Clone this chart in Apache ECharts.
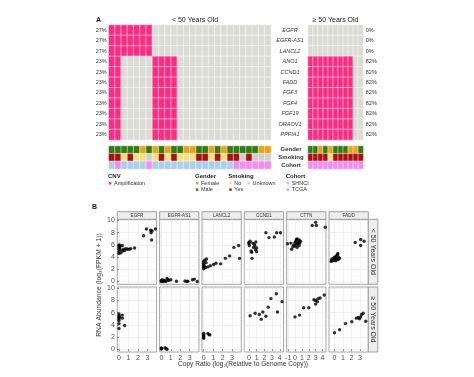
<!DOCTYPE html>
<html>
<head>
<meta charset="utf-8">
<script src="https://cdn.jsdelivr.net/npm/echarts@6/dist/echarts.min.js"></script>
<style>
  html, body { margin: 0; padding: 0; background: #fff; }
  #chart { width: 474px; height: 377px; }
</style>
</head>
<body>
<div id="chart"></div>
<script>
// ---------- panel A data ----------
const genes = ['EGFR', 'EGFR-AS1', 'LANCL2', 'ANO1', 'CCND1', 'FADD', 'FGF3', 'FGF4', 'FGF19', 'ORAOV1', 'PPFIA1']
const pctYoung = ['27%', '27%', '27%', '23%', '23%', '23%', '23%', '23%', '23%', '23%', '23%']
const pctOld = ['0%', '0%', '0%', '82%', '82%', '82%', '82%', '82%', '82%', '82%', '82%']
// one string per gene, one char per patient (1 = amplification)
const ampYoung = [
  '11111110000000000000000000',
  '11111110000000000000000000',
  '11111110000000000000000000',
  '11000001111000000000000000',
  '11000001111000000000000000',
  '11000001111000000000000000',
  '11000001111000000000000000',
  '11000001111000000000000000',
  '11000001111000000000000000',
  '11000001111000000000000000',
  '11000001111000000000000000'
]
const ampOld = [
  '00000000000',
  '00000000000',
  '00000000000',
  '11111111100',
  '11111111100',
  '11111111100',
  '11111111100',
  '11111111100',
  '11111111100',
  '11111111100',
  '11111111100'
]
const trackNames = ['Gender', 'Smoking', 'Cohort']
const genderYoung = 'MMMMMFMFMFMMFFMMFMFMMMMMFF'
const smokingYoung = 'YYNYNNUNYNYNNNYYNYNYYUYUUU'
const cohortYoung = 'STSSSSTSSSSSSSSSSSSSTTTTTT'
const genderOld = 'MMFMFMMMFFM'
const smokingOld = 'YYYYNYYYYYY'
const cohortOld = 'TTTTTTTTTTT'

// ---------- panel B data ----------
const panelGenes = ['EGFR', 'EGFR-AS1', 'LANCL2', 'CCND1', 'CTTN', 'FADD']
const ageRows = ['< 50 Years Old', '\u2265 50 Years Old']
const yTicks = [0, 2, 4, 6, 8, 10]
const xTicks = [[0, 1, 2, 3], [0, 1, 2, 3], [0, 1, 2, 3], [0, 1, 2, 3, 4], [-1, 0, 1, 2, 3, 4], [0, 1, 2, 3]]

const egfrYoung = [[0, 5.9], [0, 5.6], [0, 5.3], [0, 4.9], [0, 4.6], [0.05, 6.0], [0.1, 5.7], [0.15, 5.2], [0.2, 4.7], [0.35, 5.9], [0.4, 5.0], [0.5, 5.3], [0.6, 5.1], [0.75, 5.4], [0.9, 5.3], [1.1, 5.3], [1.25, 5.4], [1.65, 5.5], [2.6, 7.5], [2.9, 8.6], [3.35, 8.4], [3.4, 8.0], [3.45, 6.8], [3.5, 8.3], [3.85, 8.6]]
const egfrOld = [[0, 5.8], [0, 5.5], [0, 5.2], [0, 5.0], [0, 4.7], [0, 4.2], [0, 3.4], [0.05, 5.3], [0.35, 5.6], [0.35, 5.1], [0.6, 3.9]]
const as1Young = [[0, 0.2], [0, 0.0], [0.05, 0.1], [0.1, 0.3], [0.2, 0.0], [0.3, 0.2], [0.35, 0.1], [0.5, 0.0], [0.6, 0.5], [0.7, 0.3], [0.8, 0.2], [1.0, 0.3], [1.6, 0.05], [2.5, 0.1], [2.7, 0.0], [2.8, 0.05], [3.3, 0.3], [3.5, 0.4], [3.8, 0.0]]
const as1Old = [[0, 0.2], [0, 0.05], [0.05, 0.15], [0.4, 0.25], [0.5, 0.1], [0.6, 0.0]]
const lanYoung = [[0, 2.1], [0, 2.4], [0, 2.7], [0, 3.0], [0, 3.3], [0.05, 2.6], [0.1, 3.5], [0.2, 2.3], [0.25, 3.1], [0.3, 3.7], [0.45, 2.4], [0.7, 2.6], [1.05, 2.8], [1.3, 3.0], [1.8, 2.9], [2.3, 3.8], [2.75, 4.2], [3.2, 5.6], [3.7, 5.9], [3.8, 3.8]]
const lanOld = [[0, 2.6], [0, 2.4], [0, 2.2], [0, 2.0], [0, 1.8], [0.45, 2.6], [0.55, 2.4], [0.65, 2.35]]
const ccndYoung = [[0, 6.4], [0, 6.2], [0.05, 5.9], [0.15, 6.6], [0.3, 5.0], [0.35, 4.8], [0.4, 3.8], [0.5, 6.3], [0.6, 5.6], [0.75, 5.8], [0.85, 5.2], [0.9, 6.5], [1.0, 4.9], [1.0, 5.5], [0.7, 6.1], [2.2, 8.0], [2.6, 7.2], [3.3, 7.3], [3.6, 8.0], [4.1, 8.0]]
const ccndOld = [[0.15, 5.5], [0.8, 5.9], [1.35, 5.7], [1.6, 4.9], [1.8, 6.1], [2.2, 5.4], [2.5, 6.9], [2.85, 8.3], [3.55, 9.1], [3.7, 6.1], [4.3, 7.8]]
const cttnYoung = [[-1.1, 6.2], [-0.6, 6.3], [-0.5, 5.3], [-0.3, 5.7], [-0.2, 6.0], [0, 6.4], [0, 5.8], [0.1, 6.6], [0.2, 6.9], [0.2, 6.1], [0.3, 5.6], [0.4, 6.2], [0.5, 6.5], [0.6, 5.9], [0.7, 6.3], [0.8, 6.6], [0.3, 7.0], [0.6, 6.8], [2.5, 9.2], [3.0, 9.7], [3.1, 9.2], [4.4, 8.9]]
const cttnOld = [[0, 5.3], [0.65, 5.6], [1.25, 6.8], [2.0, 6.8], [2.75, 8.1], [3.0, 8.0], [3.0, 7.4], [3.25, 7.8], [3.35, 8.3], [3.65, 8.4], [4.25, 8.9]]
const faddYoung = [[-0.4, 3.3], [-0.35, 3.6], [-0.3, 3.4], [-0.2, 3.8], [-0.1, 3.5], [0, 4.0], [0, 3.6], [0.1, 3.9], [0.15, 3.4], [0.2, 4.2], [0.3, 3.7], [0.35, 4.4], [0.4, 4.6], [0.45, 3.6], [0.5, 4.0], [0.6, 3.8], [2.45, 6.4], [3.1, 6.9], [3.1, 5.9], [3.5, 6.6]]
const faddOld = [[0, 2.7], [0.6, 3.2], [1.3, 4.2], [2.05, 4.5], [2.6, 5.1], [2.8, 5.2], [2.95, 5.0], [3.1, 5.3], [3.2, 5.7], [3.4, 5.9], [3.7, 4.6]]

const scatterData = [
  [egfrYoung, as1Young, lanYoung, ccndYoung, cttnYoung, faddYoung],
  [egfrOld, as1Old, lanOld, ccndOld, cttnOld, faddOld]
]

// ---------- look ----------
const FONT = '"Liberation Sans", Arial, sans-serif'
const col = {
  amp: '#FF2B82', none: '#DCDCD6',
  female: '#E8A317', male: '#2E7D0E',
  no: '#F7E07C', yes: '#B00F0F', unknown: '#CFCFCF',
  shnci: '#A8CFEF', tcga: '#F28CF2'
}
const codeOf = [
  { M: 3, F: 2 },
  { N: 4, Y: 5, U: 6 },
  { S: 7, T: 8 }
]

function cnvCells(rows) {
  const out = []
  rows.forEach((s, r) => s.split('').forEach((ch, c) => out.push([c, r, +ch])))
  return out
}
function trackCells(rows) {
  const out = []
  rows.forEach((s, r) => s.split('').forEach((ch, c) => out.push([c, r, codeOf[r][ch]])))
  return out
}
const idx = n => Array.from({ length: n }, (_, i) => i)

// layout of the facet panels
const pLeft0 = 117.3, pStep = 42.34, pW = 39.3
const rowTop = [219.3, 287], pH = 65
const xRange = [[-0.18, 3.98], [-0.18, 3.98], [-0.18, 3.98], [-0.6, 4.5], [-1.22, 4.5], [-0.65, 4.0]]
const yRange = [-0.45, 10.2]

const grids = [
  { left: 108.7, top: 25, width: 162.3, height: 115 },
  { left: 308, top: 25, width: 55.3, height: 115 },
  { left: 108.7, top: 146, width: 162.3, height: 23 },
  { left: 308, top: 146, width: 55.3, height: 23 }
]
const hide = { axisLine: { show: false }, axisTick: { show: false }, splitLine: { show: false } }
const xAxes = [
  { type: 'category', gridIndex: 0, data: idx(26), axisLabel: { show: false }, ...hide },
  { type: 'category', gridIndex: 1, data: idx(11), axisLabel: { show: false }, ...hide },
  { type: 'category', gridIndex: 2, data: idx(26), axisLabel: { show: false }, ...hide },
  { type: 'category', gridIndex: 3, data: idx(11), axisLabel: { show: false }, ...hide }
]
const lbl = { fontFamily: FONT, color: '#333', interval: 0, hideOverlap: false }
const yAxes = [
  { type: 'category', gridIndex: 0, data: pctYoung, inverse: true, ...hide,
    axisLabel: { ...lbl, fontSize: 5.5, margin: 2 } },
  { type: 'category', gridIndex: 1, data: genes, inverse: true, ...hide,
    axisLabel: { ...lbl, fontSize: 5.5, fontStyle: 'italic', align: 'center', margin: 18 } },
  { type: 'category', gridIndex: 1, data: pctOld, inverse: true, position: 'right', ...hide,
    axisLabel: { ...lbl, fontSize: 5.5, margin: 2.5 } },
  { type: 'category', gridIndex: 2, data: trackNames, inverse: true, ...hide, axisLabel: { show: false } },
  { type: 'category', gridIndex: 3, data: trackNames, inverse: true, ...hide,
    axisLabel: { ...lbl, fontSize: 6, fontWeight: 'bold', align: 'center', margin: 17 } }
]

const series = [
  { type: 'heatmap', xAxisIndex: 0, yAxisIndex: 0, data: cnvCells(ampYoung) },
  { type: 'heatmap', xAxisIndex: 1, yAxisIndex: 1, data: cnvCells(ampOld) },
  { type: 'heatmap', xAxisIndex: 2, yAxisIndex: 3, data: trackCells([genderYoung, smokingYoung, cohortYoung]) },
  { type: 'heatmap', xAxisIndex: 3, yAxisIndex: 4, data: trackCells([genderOld, smokingOld, cohortOld]) }
].map(s => ({ ...s, silent: true, itemStyle: { borderColor: '#fff', borderWidth: 0.5 } }))

const graphic = []
const txt = (x, y, text, style) => graphic.push({
  type: 'text', x, y, silent: true,
  style: { text, fontFamily: FONT, fill: '#222', fontSize: 6, verticalAlign: 'middle', textVerticalAlign: 'middle', ...style }
})

// facet panels
for (let r = 0; r < 2; r++) {
  for (let c = 0; c < 6; c++) {
    const left = pLeft0 + pStep * c
    const g = grids.length
    grids.push({ left, top: rowTop[r], width: pW, height: pH, show: true, backgroundColor: '#fff', borderColor: '#8a8a8a', borderWidth: 0.8 })
    xAxes.push({
      type: 'value', gridIndex: g, min: xRange[c][0], max: xRange[c][1], minInterval: 1, maxInterval: 1,
      axisLine: { show: false },
      axisTick: { show: r === 1, length: 2, lineStyle: { color: '#444', width: 0.6 }, customValues: xTicks[c] },
      axisLabel: { show: r === 1, customValues: xTicks[c], fontFamily: FONT, fontSize: 7, color: '#4d4d4d', margin: 2.5 },
      splitLine: { show: true, lineStyle: { color: '#E6E6E6', width: 0.6 } },
      minorTick: { show: false, splitNumber: 2 },
      minorSplitLine: { show: true, lineStyle: { color: '#F3F3F3', width: 0.4 } }
    })
    yAxes.push({
      type: 'value', gridIndex: g, min: yRange[0], max: yRange[1], minInterval: 2, maxInterval: 2,
      axisLine: { show: false },
      axisTick: { show: c === 0, length: 2, lineStyle: { color: '#444', width: 0.6 }, customValues: yTicks },
      axisLabel: { show: c === 0, customValues: yTicks, fontFamily: FONT, fontSize: 7, color: '#4d4d4d', margin: 2.5 },
      splitLine: { show: true, lineStyle: { color: '#E6E6E6', width: 0.6 } },
      minorTick: { show: false, splitNumber: 2 },
      minorSplitLine: { show: true, lineStyle: { color: '#F3F3F3', width: 0.4 } }
    })
    series.push({
      type: 'scatter', xAxisIndex: g, yAxisIndex: yAxes.length - 1, data: scatterData[r][c],
      symbolSize: 3.4, itemStyle: { color: '#000' }, silent: true
    })
    if (r === 0) {
      graphic.push({ type: 'rect', silent: true, shape: { x: left, y: 211.7, width: pW, height: 7.6 },
        style: { fill: '#EDEDED', stroke: '#8a8a8a', lineWidth: 0.8 } })
      txt(left + pW / 2, 215.6, panelGenes[c], { fontSize: 4.6, align: 'center', textAlign: 'center', fill: '#333' })
    }
  }
  const sx = pLeft0 + pStep * 5 + pW
  graphic.push({ type: 'rect', silent: true, shape: { x: sx, y: rowTop[r], width: 9.5, height: pH },
    style: { fill: '#EDEDED', stroke: '#8a8a8a', lineWidth: 0.8 } })
  graphic.push({ type: 'text', silent: true, x: sx + 4.9, y: rowTop[r] + pH / 2, rotation: -Math.PI / 2,
    style: { text: ageRows[r], fontFamily: FONT, fontSize: 7, fill: '#333', align: 'center', textAlign: 'center',
      verticalAlign: 'middle', textVerticalAlign: 'middle' } })
}

// titles and axis names
txt(96, 20, 'A', { fontWeight: 'bold', fontSize: 7 })
txt(195, 20, '< 50 Years Old', { fontSize: 7, align: 'center', textAlign: 'center' })
txt(335.5, 20, '\u2265 50 Years Old', { fontSize: 7, align: 'center', textAlign: 'center' })
txt(92, 207, 'B', { fontWeight: 'bold', fontSize: 7 })
txt(243, 364, 'Copy Ratio (log\u2082(Relative to Genome Copy))', { fontSize: 6.6, align: 'center', textAlign: 'center', fill: '#333' })
graphic.push({ type: 'text', silent: true, x: 99, y: 285, rotation: Math.PI / 2,
  style: { text: 'RNA Abundance (log\u2082(FPKM + 1))', fontFamily: FONT, fontSize: 6.8, fill: '#333',
    align: 'center', textAlign: 'center', verticalAlign: 'middle', textVerticalAlign: 'middle' } })

// legend of panel A
const legendBlocks = [
  { x: 108, title: 'CNV', items: [['Amplification', col.amp, 0, 0]] },
  { x: 195, title: 'Gender', items: [['Female', col.female, 0, 0], ['Male', col.male, 0, 1]] },
  { x: 228.3, title: 'Smoking', items: [['No', col.no, 0, 0], ['Unknown', col.unknown, 18.3, 0], ['Yes', col.yes, 0, 1]] },
  { x: 285.7, title: 'Cohort', items: [['SHNCI', col.shnci, 0, 0], ['TCGA', col.tcga, 0, 1]] }
]
legendBlocks.forEach(b => {
  txt(b.x, 176.7, b.title, { fontWeight: 'bold', fontSize: 6 })
  b.items.forEach(([name, color, dx, row]) => {
    const y = 183.3 + row * 6.3
    graphic.push({ type: 'rect', silent: true, shape: { x: b.x + dx + 1, y: y - 1.2, width: 2.4, height: 2.4 }, style: { fill: color } })
    txt(b.x + dx + 6, y, name, { fontSize: 5.5, fill: '#333' })
  })
})

const chart = echarts.init(document.getElementById('chart'), null, { renderer: 'canvas' })
chart.setOption({
  animation: false,
  backgroundColor: '#fff',
  grid: grids,
  xAxis: xAxes,
  yAxis: yAxes,
  visualMap: {
    type: 'piecewise', show: false, dimension: 2, seriesIndex: [0, 1, 2, 3],
    pieces: [
      { value: 0, color: col.none }, { value: 1, color: col.amp },
      { value: 2, color: col.female }, { value: 3, color: col.male },
      { value: 4, color: col.no }, { value: 5, color: col.yes }, { value: 6, color: col.unknown },
      { value: 7, color: col.shnci }, { value: 8, color: col.tcga }
    ]
  },
  graphic: { elements: graphic },
  series
})
</script>
</body>
</html>
